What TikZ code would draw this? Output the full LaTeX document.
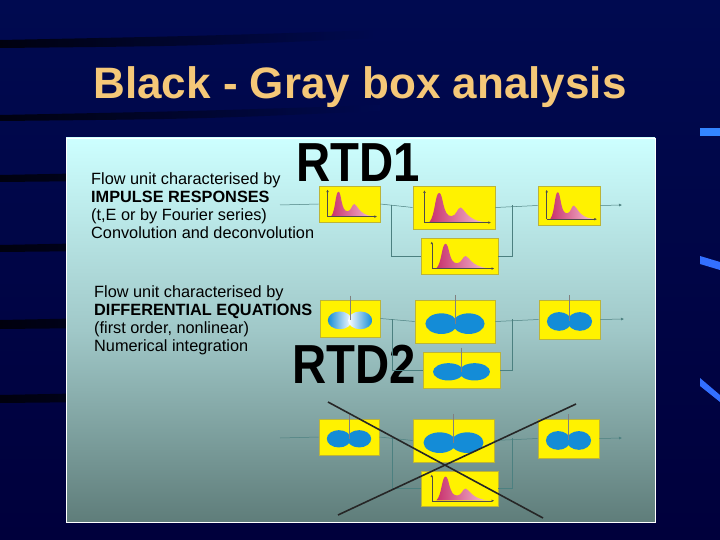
\documentclass[tikz,border=0pt]{standalone}
\usepackage{fontspec}
\setmainfont{Liberation Sans}
\usetikzlibrary{arrows.meta}
\definecolor{navy}{RGB}{0,10,80}
\definecolor{navyb}{RGB}{0,0,60}
\definecolor{ttl}{RGB}{245,200,120}
\definecolor{pantop}{RGB}{205,255,255}
\definecolor{panmid}{RGB}{160,200,200}
\definecolor{panbot}{RGB}{95,125,122}
\definecolor{pkA}{RGB}{200,50,110}
\definecolor{pkB}{RGB}{245,190,210}
\definecolor{lobe}{RGB}{20,140,215}
\begin{document}
\begin{tikzpicture}[x=1pt,y=-1pt,
  box/.style={draw=yellow!70!black,fill=yellow,line width=0.6pt,inner sep=0pt},
  wire/.style={draw=gray!60!teal,line width=0.5pt},
  body/.style={font=\fontsize{16.3}{18}\selectfont,align=left,anchor=north west,inner sep=0pt},
  big/.style={font=\fontsize{55}{55}\selectfont\bfseries,inner sep=0pt,xscale=0.86},
  tip/.style={-{Latex[length=3pt,width=3pt]}}]
\useasboundingbox (0,0) rectangle (720,540);
% background
\shade[top color=navy,bottom color=navyb] (0,0) rectangle (720,540);
\foreach \yy/\w in {40/8,115/6,175/7,245/7,320/9,395/8}
  \shade[left color=black,right color=navy,opacity=0.8] (0,\yy) .. controls (200,\yy-4) .. (380,\yy-10) -- (380,\yy-10+\w) .. controls (200,\yy+\w-2) .. (0,\yy+\w) -- cycle;
\fill[blue!60!cyan!80!white] (700,128) rectangle (720,136);
\fill[blue!70!cyan!80!white] (700,256) -- (720,262) -- (720,270) -- (700,264) -- cycle;
\fill[blue!70!cyan!80!white] (700,378) -- (720,395) -- (720,402) -- (700,386) -- cycle;
% title
\node[text=ttl,font=\fontsize{44}{44}\selectfont\bfseries] (title) at (360,87) {Black - Gray box analysis};
% panel
\shade[top color=pantop,bottom color=panbot,middle color=panmid] (66,138) rectangle (655,522);
\draw[white,line width=0.8pt] (66,138) rectangle (655,522);
% texts
\node[body] (t1) at (91,172) {Flow unit characterised by\\\textbf{IMPULSE RESPONSES}\\(t,E or by Fourier series)\\Convolution and deconvolution};
\node[body] (t2) at (94,285) {Flow unit characterised by\\\textbf{DIFFERENTIAL EQUATIONS}\\(first order, nonlinear)\\Numerical integration};
\node[big] (rtd1) at (358,163) {RTD1};
\node[big] (rtd2) at (354,364) {RTD2};
% macros
\newcommand{\impulse}[4]{% x1 y1 x2 y2
 \pgfmathsetmacro\bw{#3-#1}\pgfmathsetmacro\bh{#4-#2}
 \begin{scope}[shift={(#1,#2)},x=\bw pt,y=-\bh pt]
  \shade[left color=pkA,right color=pkB]
   (0.2,0.84) .. controls (0.27,0.7) and (0.27,0.15) .. (0.32,0.16) .. controls (0.37,0.17) and (0.36,0.72) .. (0.47,0.7)
   .. controls (0.53,0.7) and (0.54,0.5) .. (0.58,0.5) .. controls (0.63,0.52) and (0.65,0.8) .. (0.88,0.84) -- cycle;
  \draw[black!70,line width=0.4pt,-{Latex[length=2.5pt,width=2.5pt]}] (0.14,0.85) -- (0.14,0.1);
  \draw[black!70,line width=0.4pt,-{Latex[length=2.5pt,width=2.5pt]}] (0.14,0.85) -- (0.95,0.85);
 \end{scope}}
\newcommand{\mixer}[5]{% x1 y1 x2 y2 fill
 \pgfmathsetmacro\bw{#3-#1}\pgfmathsetmacro\bh{#4-#2}
 \begin{scope}[shift={(#1,#2)},x=\bw pt,y=-\bh pt]
  #5
  \draw[gray,line width=1pt] (0.5,-0.12) -- (0.5,0.55);
 \end{scope}}
\newcommand{\lobes}{\fill[lobe] (0.33,0.55) ellipse[x radius=0.2,y radius=0.24] (0.67,0.55) ellipse[x radius=0.2,y radius=0.24];}
\newcommand{\globes}{\shade[left color=lobe,right color=white] (0.33,0.55) ellipse[x radius=0.2,y radius=0.24];
 \shade[right color=lobe,left color=white] (0.67,0.55) ellipse[x radius=0.2,y radius=0.24];}
% ---------- Row 1
\node[box,minimum width=61,minimum height=36] (a1) at (349.5,204) {};
\node[box,minimum width=82,minimum height=43] (b1) at (454,207.5) {};
\node[box,minimum width=62,minimum height=39] (c1) at (569,205.5) {};
\node[box,minimum width=77,minimum height=36] (d1) at (459.5,256) {};
\coordinate (s1) at (280,205); \coordinate (e1) at (622,205);
\coordinate (l1) at (391,205); \coordinate (r1) at (512,205);
\draw[wire] (s1) -- (a1.west) (a1.east) -- (b1.west) (b1.east) -- (c1.west);
\draw[wire,tip] (c1.east) -- (e1);
\draw[wire] (l1) |- (d1.west) (d1.east) -| (r1);
\impulse{319}{186}{380}{222}\impulse{413}{186}{495}{229}\impulse{538}{186}{600}{225}\impulse{421}{238}{498}{274}
% ---------- Row 2
\node[box,minimum width=60,minimum height=37] (a2) at (350,318.5) {};
\node[box,minimum width=80,minimum height=43] (b2) at (455,321.5) {};
\node[box,minimum width=61,minimum height=39] (c2) at (569.5,319.5) {};
\node[box,minimum width=77,minimum height=36] (d2) at (461.5,370) {};
\coordinate (e2) at (624,319);
\coordinate (l2) at (392,319); \coordinate (r2) at (512,319);
\draw[wire] (a2.east) -- (b2.west) (b2.east) -- (c2.west);
\draw[wire,tip] (c2.east) -- (e2);
\draw[wire] (l2) |- (d2.west) (d2.east) -| (r2);
\mixer{320}{300}{380}{337}{\globes}\mixer{415}{300}{495}{343}{\lobes}\mixer{539}{300}{600}{339}{\lobes}
\mixer{423}{352}{500}{388}{\lobes}
% ---------- Row 3
\node[box,minimum width=60,minimum height=36] (a3) at (349,437) {};
\node[box,minimum width=81,minimum height=43] (b3) at (453.5,440.5) {};
\node[box,minimum width=61,minimum height=39] (c3) at (568.5,438.5) {};
\node[box,minimum width=77,minimum height=35] (d3) at (459.5,488.5) {};
\coordinate (s3) at (280,438); \coordinate (e3) at (622,438);
\coordinate (l3) at (392,438); \coordinate (r3) at (512,438);
\draw[wire] (s3) -- (a3.west) (a3.east) -- (b3.west) (b3.east) -- (c3.west);
\draw[wire,tip] (c3.east) -- (e3);
\draw[wire] (l3) |- (d3.west) (d3.east) -| (r3);
\mixer{319}{419}{379}{455}{\lobes}\mixer{413}{419}{494}{462}{\lobes}\mixer{538}{419}{599}{458}{\lobes}
\impulse{421}{471}{498}{506}
% cross
\coordinate (x1) at (328,402); \coordinate (x2) at (543,518);
\coordinate (x3) at (576,404); \coordinate (x4) at (338,515);
\draw[black!85,line width=1.6pt] (x1) -- (x2) (x3) -- (x4);
\end{tikzpicture}
\end{document}
